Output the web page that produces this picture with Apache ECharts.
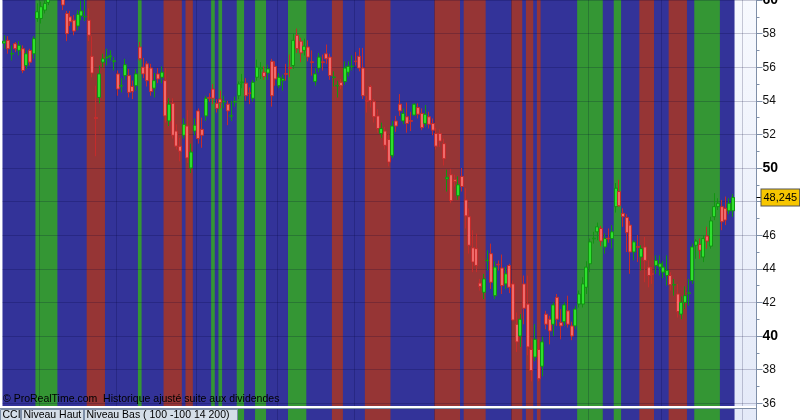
<!DOCTYPE html>
<html><head><meta charset="utf-8">
<script src="https://cdn.jsdelivr.net/npm/echarts@6/dist/echarts.min.js"></script>
<style>html,body{margin:0;padding:0;background:#fff}#c{width:800px;height:420px}</style>
</head><body><div id="c"></div>
<script>
const opens = [
57.43,57.6,56.78,57.4,57.0,57.1,56.1,57.0,56.8,58.9,
58.9,59.4,59.85,60.3,60.9,60.5,60.1,59.2,59.0,58.8,
58.45,59.05,59.0,58.8,56.65,53.0,54.2,56.3,56.55,56.62,
56.33,55.6,54.87,55.5,55.5,54.85,54.9,57.2,56.0,56.2,
55.95,54.75,55.6,55.4,55.2,52.8,53.85,52.2,51.3,51.95,
52.5,50.0,52.2,53.4,52.3,53.1,54.2,54.7,53.85,54.1,
53.93,53.8,53.08,53.92,54.3,55.08,55.05,54.47,54.15,55.4,
55.9,55.7,55.65,56.35,56.05,54.9,55.2,55.62,55.97,56.1,
57.9,57.55,57.0,57.2,56.32,55.15,55.95,56.32,56.8,56.6,
55.38,54.88,55.1,55.15,55.7,56.03,56.37,56.65,55.95,54.02,
54.85,53.95,53.1,52.05,52.2,51.7,50.75,52.8,53.8,52.8,
53.05,52.82,53.15,53.6,53.25,52.65,53.05,52.65,52.05,52.05,
51.45,49.35,49.6,49.3,48.35,49.5,48.1,47.1,45.25,45.2,
43.15,42.6,44.48,44.9,42.4,44.27,44.05,43.1,44.2,43.1,
40.7,40.0,43.1,41.9,39.2,38.75,39.2,38.2,41.3,41.0,
40.7,42.3,40.8,40.85,41.5,40.6,40.6,41.9,41.9,42.9,
44.3,45.78,46.2,46.4,45.3,45.82,45.8,47.7,48.6,47.3,
47.05,46.6,45.0,45.32,44.7,45.3,44.1,43.72,44.2,44.1,
43.8,43.6,43.6,43.03,42.5,41.3,42.0,42.53,43.3,45.4,
45.45,44.7,45.95,45.35,47.1,47.7,47.7,47.6,47.45,47.45];
const closes = [
57.55,57.1,56.82,57.1,57.3,55.8,56.8,56.3,57.7,59.3,
59.6,59.8,60.15,60.8,60.5,60.2,59.7,58.0,58.7,58.15,
59.15,59.35,59.02,57.9,55.65,52.95,55.6,56.5,56.6,56.68,
56.38,54.7,54.92,56.15,54.5,54.55,55.6,56.5,55.6,55.2,
54.55,55.2,55.3,55.7,53.1,53.8,51.95,51.3,51.0,52.6,
50.6,50.95,52.55,51.75,51.95,54.15,54.15,54.15,53.55,53.9,
53.98,53.4,53.12,53.97,55.0,55.12,54.3,54.43,55.1,56.0,
55.95,55.45,55.9,54.3,55.3,55.4,55.3,55.58,55.93,57.6,
57.1,56.85,57.25,56.6,56.28,55.6,56.6,56.28,56.5,55.5,
55.42,54.92,54.9,55.95,56.05,56.07,56.33,55.95,54.3,53.98,
54.0,53.05,52.35,52.35,51.35,50.35,52.5,52.5,53.4,53.25,
52.65,52.78,53.8,53.2,52.4,53.2,52.6,52.25,51.3,51.6,
50.55,49.45,48.05,49.2,49.0,48.9,47.15,45.4,44.4,44.2,
42.95,43.4,44.52,43.2,44.1,44.23,43.0,43.7,42.9,40.95,
39.65,41.0,41.65,39.35,37.95,39.8,37.45,39.65,40.7,40.3,
41.85,41.0,40.6,41.85,40.7,40.0,41.6,42.5,43.1,44.1,
45.6,45.82,46.5,45.65,45.8,45.78,46.2,48.8,47.75,47.1,
46.15,45.0,45.6,45.28,45.2,44.5,43.6,43.68,44.5,44.3,
44.1,43.9,43.05,43.07,41.45,42.0,42.4,42.57,45.3,45.65,
45.1,45.8,45.65,46.85,47.7,47.9,46.8,46.9,47.9,48.245];
const lows = [
57.1,56.8,56.4,56.9,56.7,55.65,55.9,56.1,56.5,58.7,
58.6,59.2,59.7,60.1,60.3,60.05,59.4,57.55,58.45,57.9,
58.2,58.8,58.75,57.55,55.4,50.7,53.85,56.0,56.1,56.4,
55.8,54.3,54.5,55.25,54.2,54.1,54.6,56.4,55.35,54.85,
54.3,54.2,55.05,55.05,52.7,52.5,51.75,51.1,50.4,51.75,
50.3,49.7,51.95,51.45,51.2,52.8,53.95,53.8,53.3,53.55,
53.55,52.55,52.8,53.65,54.1,54.75,54.0,53.8,53.95,55.2,
55.3,55.25,55.25,53.65,54.9,54.75,54.6,55.2,55.4,55.9,
56.85,56.3,56.7,56.35,55.5,54.9,55.7,55.8,56.2,55.25,
54.85,54.2,54.7,54.95,55.45,55.8,56.1,55.75,54.1,53.3,
53.6,52.7,52.1,51.8,51.1,50.1,50.6,52.15,53.1,52.6,
52.1,52.2,53.1,52.95,52.25,52.45,52.35,51.95,51.1,51.25,
50.15,48.6,47.9,48.9,48.1,48.6,46.4,44.9,43.8,43.8,
42.7,42.2,43.9,42.8,42.2,43.9,42.5,42.8,42.55,40.9,
39.05,39.35,40.7,38.85,37.3,38.5,37.3,37.6,40.4,39.5,
40.0,40.6,39.8,40.6,40.5,39.75,40.4,41.7,41.7,42.5,
43.8,45.5,45.7,45.35,44.9,45.55,45.2,47.35,47.7,46.5,
45.0,43.7,44.5,44.4,43.9,43.2,42.9,43.1,43.7,43.6,
43.45,43.0,42.7,42.4,41.1,41.0,41.6,41.8,43.1,44.6,
44.6,44.4,45.2,45.2,46.9,47.5,46.3,46.6,47.25,47.1];
const highs = [
57.9,57.85,57.3,57.5,57.55,57.3,57.0,57.1,57.85,59.8,
59.9,60.1,60.5,61.0,61.1,60.7,60.4,59.35,59.35,59.1,
59.4,59.95,60.0,59.5,57.85,54.9,56.1,56.8,57.1,57.0,
56.6,55.8,55.35,56.5,55.9,55.2,55.9,57.5,56.55,56.35,
56.2,55.65,55.95,56.05,55.95,54.15,54.15,52.6,51.8,52.95,
53.45,51.45,52.95,53.55,53.0,54.3,54.45,55.0,54.1,54.6,
54.3,54.0,54.0,54.25,55.15,55.6,55.35,54.8,55.25,56.45,
56.3,56.05,56.15,56.5,56.35,55.65,55.55,56.2,56.75,58.0,
58.3,57.75,57.7,57.6,57.0,55.95,56.85,56.75,57.35,56.8,
55.75,55.2,55.3,56.35,56.35,56.7,56.9,57.15,57.15,54.3,
54.95,54.1,53.5,52.7,52.45,52.0,52.8,53.1,54.4,53.55,
53.9,53.35,53.85,53.85,53.55,53.75,53.35,52.95,52.4,52.3,
51.75,49.9,49.95,49.6,49.5,50.0,48.8,47.6,46.3,46.1,
43.4,43.7,45.1,45.5,44.45,44.5,44.85,44.1,44.3,43.3,
41.4,41.3,43.6,43.6,39.85,40.7,39.8,39.95,41.5,41.2,
42.0,42.5,41.6,42.0,42.4,40.85,41.8,42.7,43.5,44.45,
45.8,46.2,46.75,46.55,46.1,46.4,46.6,49.1,49.3,47.6,
47.25,46.85,45.7,46.0,45.4,45.9,44.5,44.1,44.8,44.8,
44.45,44.8,43.8,43.4,43.1,42.35,42.95,43.4,45.5,45.75,
45.8,46.0,46.5,47.1,48.5,48.2,48.1,48.3,48.2,48.45];

// CCI regime runs (bar index ranges); all other bars are neutral (blue)
const redRuns = [[23,27],[44,48],[50,51],[90,92],[99,105],[118,124],[126,131],[139,141],[143,144],[146,146],[174,177],[182,186]];
const greenRuns = [[9,14],[37,37],[57,57],[59,59],[64,65],[69,71],[78,82],[157,163],[167,168],[189,195]];
const monthLines = [10,31,53,75,96,118,139,160,180,202];
const emptySlots = 6;
const lastPrice = 48.245;
const footerText = '© ProRealTime.com  Historique ajusté suite aux dividendes';
const panelLabels = ['CCI', 'Niveau Haut', 'Niveau Bas ( 100 -100 14 200)'];

const n = opens.length;
const categories = Array.from({length: n + emptySlots}, (_, i) => String(i + 1));
const ohlc = opens.map((o, i) => [o, closes[i], lows[i], highs[i]]);
const bandColors = ['#333399', '#963535', '#349634'];
const bands = [[0, n - 1, 0]]
  .concat(redRuns.map(r => [r[0], r[1], 1]))
  .concat(greenRuns.map(r => [r[0], r[1], 2]));

const FONT = '"Liberation Sans", Arial, sans-serif';
const chart = echarts.init(document.getElementById('c'), null, {renderer: 'canvas'});

const labelBoxes = [];
let bx = 0;
const boxW = [21, 63, 154];
panelLabels.forEach((t, i) => {
  labelBoxes.push({type: 'rect', z: 101, shape: {x: bx + 0.5, y: 409.5, width: boxW[i] - 1, height: 14},
    style: {fill: '#d5dee8', stroke: '#7d8ea6', lineWidth: 1}});
  labelBoxes.push({type: 'text', z: 102, x: bx + 2.5, y: 415.5,
    style: {text: t, font: '10.5px ' + FONT, fill: '#000', textVerticalAlign: 'middle'}});
  bx += boxW[i];
});

chart.setOption({
  animation: false,
  backgroundColor: '#ffffff',
  grid: {left: 2.5, top: 0, width: 754, height: 436.8, show: true, borderWidth: 0,
    outerBoundsMode: 'none', containLabel: false,
    backgroundColor: {type: 'linear', x: 0, y: 0, x2: 0, y2: 1,
      colorStops: [{offset: 0, color: '#f7f9fe'}, {offset: 1, color: '#e3e9f8'}]}},
  xAxis: {type: 'category', data: categories, boundaryGap: true,
    axisLine: {show: false}, axisTick: {show: false}, axisLabel: {show: false}, splitLine: {show: false}},
  yAxis: {type: 'value', position: 'right', min: 34, max: 60, interval: 2, z: 2,
    axisLine: {show: true, lineStyle: {color: '#7f8fa8', width: 1}},
    axisTick: {show: true, length: 6, lineStyle: {color: '#7f8fa8'}},
    minorTick: {show: true, splitNumber: 2, length: 3, lineStyle: {color: '#7f8fa8'}},
    splitLine: {show: true, lineStyle: {color: 'rgba(0,0,50,0.2)', width: 1}},
    axisLabel: {margin: 6, fontSize: 12, color: '#111', fontFamily: FONT,
      formatter: v => v % 10 === 0 ? '{b|' + v + '}' : String(v),
      rich: {b: {fontSize: 14, fontWeight: 'bold', color: '#000', fontFamily: FONT}}}},
  series: [
    {type: 'custom', z: 1, silent: true, data: bands,
      renderItem: (params, api) => {
        const w = api.size([1, 0])[0];
        const x0 = api.coord([api.value(0), 60])[0] - w / 2;
        const x1 = api.coord([api.value(1), 60])[0] + w / 2;
        const cs = params.coordSys;
        return {type: 'rect', shape: {x: x0, y: cs.y, width: x1 - x0, height: cs.height},
          style: {fill: bandColors[api.value(2)]}};
      }},
    {type: 'custom', z: 2, silent: true, data: monthLines.map(m => [m]),
      renderItem: (params, api) => {
        const w = api.size([1, 0])[0];
        const x = Math.round(api.coord([api.value(0), 60])[0] - w / 2) + 0.5;
        const cs = params.coordSys;
        return {type: 'line', shape: {x1: x, y1: cs.y, x2: x, y2: cs.y + cs.height},
          style: {stroke: 'rgba(0,0,50,0.2)', lineWidth: 1}};
      }},
    {type: 'candlestick', z: 3, data: ohlc, barWidth: 3.5,
      itemStyle: {color: '#2ee02e', color0: '#f06a6a', borderColor: '#129412', borderColor0: '#c42b2b',
        borderColorDoji: '#129412', borderWidth: 1},
      markLine: {silent: true, symbol: 'none', data: [{yAxis: lastPrice}],
        lineStyle: {color: 'rgba(0,0,0,0)'},
        label: {position: 'end', distance: 5, formatter: () => lastPrice.toFixed(3).replace('.', ','),
          backgroundColor: '#f7c600', borderColor: '#555', borderWidth: 1, padding: [3, 2, 2, 2],
          fontSize: 11, color: '#000', fontFamily: FONT}}}
  ],
  graphic: [
    {type: 'rect', z: 100, shape: {x: 0, y: 406, width: 756, height: 2.5}, style: {fill: '#ffffff'}},
    {type: 'line', z: 100, shape: {x1: 0, y1: 408.5, x2: 756.5, y2: 408.5}, style: {stroke: '#7d8ea6', lineWidth: 1}},
    {type: 'text', z: 100, x: 3, y: 399, style: {text: footerText, font: '10.5px ' + FONT, fill: '#000', textVerticalAlign: 'middle'}}
  ].concat(labelBoxes)
});

// short marker dash on the axis at the last price level
const py = Math.round(chart.convertToPixel({yAxisIndex: 0}, lastPrice)) + 0.5;
const ax = chart.convertToPixel({xAxisIndex: 0}, categories.length - 1) + chart.getModel().getComponent('xAxis', 0).axis.getBandWidth() / 2;
chart.setOption({graphic: [{type: 'line', id: 'pdash', z: 100, shape: {x1: ax, y1: py, x2: ax + 4, y2: py}, style: {stroke: '#000', lineWidth: 1}}]});
</script></body></html>
